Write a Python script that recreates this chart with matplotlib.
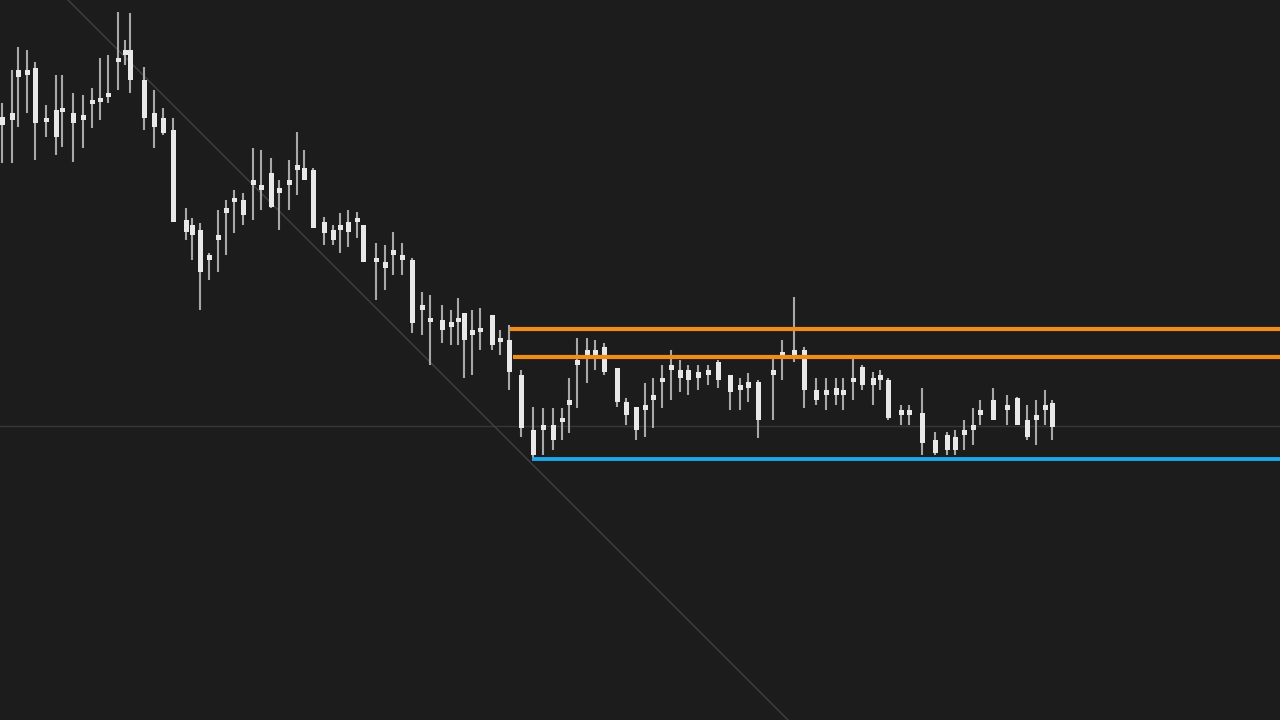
import matplotlib
matplotlib.use("Agg")
import matplotlib.pyplot as plt
import numpy as np

# bar times (chart time units) and OHLC prices (chart price units)
t = [2, 12, 18, 27, 35, 46, 56, 62, 73, 83, 92, 100, 108, 118, 125, 130, 144, 154, 163, 173,
     186, 192, 200, 209, 218, 226, 234, 243, 253, 261, 271, 279, 289, 297, 304, 313, 324, 333,
     340, 348, 357, 363, 376, 385, 393, 402, 412, 422, 430, 442, 451, 458, 464, 472, 480, 492,
     500, 509, 521, 533, 543, 553, 562, 569, 577, 587, 595, 604, 617, 626, 636, 645, 653, 662,
     671, 680, 688, 698, 708, 718, 730, 740, 748, 758, 773, 782, 794, 804, 816, 826, 836, 843,
     853, 862, 873, 880, 888, 901, 909, 922, 935, 947, 955, 964, 973, 980, 993, 1007, 1017,
     1027, 1036, 1045, 1052]
high = [617, 650, 673, 670, 658, 615, 645, 645, 627, 625, 632, 662, 665, 708, 680, 707, 653, 630,
        612, 602, 512, 502, 497, 467, 510, 520, 530, 527, 572, 570, 562, 540, 560, 588, 570, 552,
        503, 495, 507, 510, 508, 495, 477, 475, 488, 477, 462, 428, 425, 415, 410, 422, 407, 410,
        412, 405, 390, 395, 350, 313, 312, 312, 312, 342, 382, 382, 380, 377, 352, 322, 312, 337,
        342, 355, 370, 360, 355, 355, 355, 360, 345, 342, 347, 340, 365, 380, 423, 373, 342, 342,
        342, 342, 365, 355, 348, 350, 342, 315, 315, 332, 288, 288, 290, 300, 312, 320, 332, 325,
        323, 315, 320, 330, 320]
low = [557, 557, 593, 607, 560, 583, 565, 573, 558, 572, 592, 600, 617, 630, 655, 627, 590, 572,
       585, 498, 480, 460, 410, 440, 448, 465, 487, 495, 500, 510, 512, 490, 510, 525, 540, 492,
       475, 475, 467, 473, 482, 458, 420, 430, 445, 445, 387, 385, 355, 377, 375, 375, 342, 345,
       370, 370, 365, 330, 283, 260, 265, 270, 280, 287, 312, 337, 350, 345, 313, 295, 280, 283,
       292, 312, 320, 328, 325, 330, 335, 332, 310, 310, 318, 282, 300, 340, 358, 312, 315, 310,
       315, 310, 320, 330, 315, 330, 300, 295, 295, 265, 265, 265, 265, 270, 275, 295, 300, 295,
       295, 280, 275, 295, 280]
open_ = [595, 600, 643, 645, 597, 598, 583, 608, 597, 600, 616, 618, 623, 658, 665, 640, 602, 593,
         587, 498, 488, 485, 448, 460, 480, 507, 518, 505, 535, 530, 513, 527, 535, 550, 540, 492,
         487, 480, 490, 488, 498, 458, 458, 452, 465, 460, 397, 410, 398, 390, 393, 398, 380, 385,
         388, 375, 378, 348, 292, 265, 290, 280, 298, 315, 355, 365, 365, 348, 318, 305, 290, 310,
         320, 338, 350, 342, 340, 342, 345, 340, 328, 330, 332, 300, 345, 364, 365, 330, 320, 325,
         325, 325, 338, 335, 335, 340, 302, 305, 305, 277, 267, 270, 270, 285, 290, 305, 300, 310,
         295, 283, 300, 310, 293]
close = [603, 607, 650, 650, 652, 602, 610, 612, 607, 605, 620, 622, 627, 662, 670, 670, 640, 607,
         602, 590, 500, 495, 490, 465, 485, 512, 522, 520, 540, 535, 547, 532, 540, 555, 552, 550,
         498, 490, 495, 498, 502, 495, 462, 458, 470, 465, 460, 415, 402, 400, 398, 402, 407, 390,
         392, 405, 382, 380, 345, 290, 295, 295, 302, 320, 360, 370, 370, 373, 352, 318, 313, 315,
         325, 342, 355, 350, 350, 348, 350, 358, 345, 335, 338, 338, 350, 368, 370, 370, 330, 330,
         332, 330, 342, 353, 342, 345, 340, 310, 310, 307, 280, 285, 283, 290, 295, 310, 320, 315,
         322, 300, 305, 315, 317]

# drawn levels / lines (time, price)
resistance_levels = [391, 363]
resistance_starts = [510, 513]
support_level = 261
support_start = 532
mid_level = 294
trend_t = [68, 788]
trend_p = [720, 0]

BG = "#1c1c1c"
fig = plt.figure(figsize=(12.8, 7.2), dpi=100, facecolor=BG)
ax = fig.add_axes([0, 0, 1, 1])
ax.set_facecolor(BG)
ax.set_xlim(0, 1280)
ax.set_ylim(0, 720)
ax.axis("off")

# faint horizontal and diagonal guide lines
ax.axhline(mid_level, color="#363636", lw=1.0, zorder=1)
ax.plot(trend_t, trend_p, color="#414141", lw=1.0, zorder=1)

t_arr = np.array(t, float)
o = np.array(open_, float)
c = np.array(close, float)
h = np.array(high, float)
l = np.array(low, float)

ax.vlines(t_arr, l, h, color="#a8a8a8", lw=1.5, zorder=3)
bottom = np.minimum(o, c)
height = np.maximum(np.abs(c - o), 2)
ax.bar(t_arr, height, bottom=bottom, width=5.0, color="#e8e8e8", edgecolor="none", zorder=4)

for lev, st in zip(resistance_levels, resistance_starts):
    ax.hlines(lev, st, 1280, color="#f08c1a", lw=3.0, zorder=5)
ax.hlines(support_level, support_start, 1280, color="#1ea7e8", lw=2.8, zorder=5)

fig.savefig("out.png", dpi=100, facecolor=BG)
